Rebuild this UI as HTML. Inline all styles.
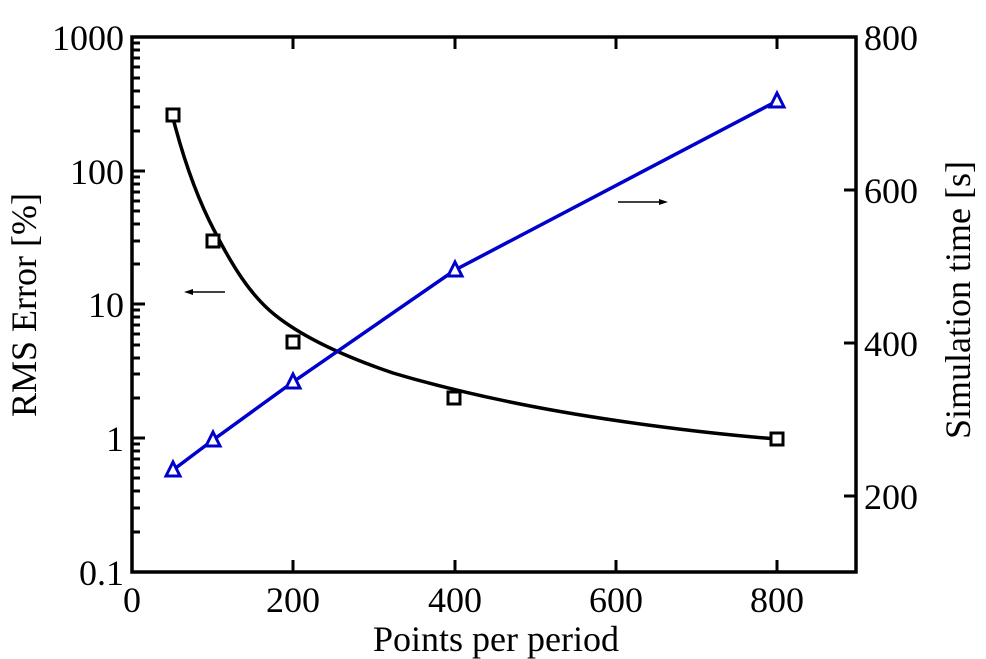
<!DOCTYPE html>
<html><head><style>
html,body{margin:0;padding:0;background:#fff;}
svg{display:block;font-family:"Liberation Serif",serif;}
</style></head><body>
<svg width="986" height="659" viewBox="0 0 986 659" xmlns="http://www.w3.org/2000/svg">
<g stroke="#000" stroke-width="3.5" fill="none">
<rect x="132" y="37" width="724" height="535"/>
</g>
<g stroke="#000" stroke-width="3">
<line x1="293" y1="572" x2="293" y2="560"/><line x1="455" y1="572" x2="455" y2="560"/><line x1="616" y1="572" x2="616" y2="560"/><line x1="777" y1="572" x2="777" y2="560"/>
<line x1="293" y1="37" x2="293" y2="49"/><line x1="455" y1="37" x2="455" y2="49"/><line x1="616" y1="37" x2="616" y2="49"/><line x1="777" y1="37" x2="777" y2="49"/>
<line x1="856" y1="190" x2="844" y2="190"/><line x1="856" y1="343" x2="844" y2="343"/><line x1="856" y1="496" x2="844" y2="496"/>
</g>
<g stroke="#000" stroke-width="3">
<line x1="132" y1="37" x2="145" y2="37"/><line x1="132" y1="171" x2="145" y2="171"/><line x1="132" y1="304" x2="145" y2="304"/><line x1="132" y1="438" x2="145" y2="438"/>
<line x1="132" y1="131" x2="140" y2="131"/><line x1="132" y1="107" x2="140" y2="107"/><line x1="132" y1="91" x2="140" y2="91"/><line x1="132" y1="78" x2="140" y2="78"/><line x1="132" y1="67" x2="140" y2="67"/><line x1="132" y1="58" x2="140" y2="58"/><line x1="132" y1="50" x2="140" y2="50"/><line x1="132" y1="43" x2="140" y2="43"/>
<line x1="132" y1="264" x2="140" y2="264"/><line x1="132" y1="241" x2="140" y2="241"/><line x1="132" y1="224" x2="140" y2="224"/><line x1="132" y1="211" x2="140" y2="211"/><line x1="132" y1="201" x2="140" y2="201"/><line x1="132" y1="192" x2="140" y2="192"/><line x1="132" y1="184" x2="140" y2="184"/><line x1="132" y1="177" x2="140" y2="177"/>
<line x1="132" y1="398" x2="140" y2="398"/><line x1="132" y1="374" x2="140" y2="374"/><line x1="132" y1="358" x2="140" y2="358"/><line x1="132" y1="345" x2="140" y2="345"/><line x1="132" y1="334" x2="140" y2="334"/><line x1="132" y1="325" x2="140" y2="325"/><line x1="132" y1="317" x2="140" y2="317"/><line x1="132" y1="310" x2="140" y2="310"/>
<line x1="132" y1="532" x2="140" y2="532"/><line x1="132" y1="508" x2="140" y2="508"/><line x1="132" y1="491" x2="140" y2="491"/><line x1="132" y1="478" x2="140" y2="478"/><line x1="132" y1="468" x2="140" y2="468"/><line x1="132" y1="459" x2="140" y2="459"/><line x1="132" y1="451" x2="140" y2="451"/><line x1="132" y1="444" x2="140" y2="444"/>
</g>
<path d="M174,122 C184,160 198,200 215,232 C232,265 250,295 275,315 C300,335 340,355 393,373 C430,384 470,394 520,404 C600,420 700,433 777,439" stroke="#000" stroke-width="3.5" fill="none"/>
<g stroke="#000" stroke-width="3" fill="#fff">
<rect x="167" y="109" width="12" height="12"/><rect x="207" y="235" width="12" height="12"/><rect x="287" y="336" width="12" height="12"/><rect x="448" y="392" width="12" height="12"/><rect x="771" y="433" width="12" height="12"/>
</g>
<polyline points="173,470 213,440 293,382 455,270 777,101" stroke="#0000cc" stroke-width="3.5" fill="none"/>
<g stroke="#0000cc" stroke-width="3" fill="#fff">
<polygon points="173,462 180,476 166,476"/><polygon points="213,432 220,446 206,446"/><polygon points="293,374 300,388 286,388"/><polygon points="455,262 462,276 448,276"/><polygon points="777,93 784,107 770,107"/>
</g>
<line x1="225" y1="292" x2="190" y2="292" stroke="#000" stroke-width="1.5"/><polygon points="184,292 193,289 193,295" fill="#000"/>
<line x1="618" y1="202" x2="662" y2="202" stroke="#000" stroke-width="1.5"/><polygon points="668,202 659,199 659,205" fill="#000"/>
<g font-size="36" fill="#000">
<g text-anchor="end">
<text x="124" y="50">1000</text><text x="124" y="184">100</text><text x="124" y="317">10</text><text x="124" y="451">1</text><text x="124" y="585">0.1</text>
</g>
<g text-anchor="middle">
<text x="132" y="612">0</text><text x="293" y="612">200</text><text x="455" y="612">400</text><text x="616" y="612">600</text><text x="777" y="612">800</text>
<text x="496" y="651">Points per period</text>
</g>
<g text-anchor="start">
<text x="864" y="50">800</text><text x="864" y="203">600</text><text x="864" y="356">400</text><text x="864" y="509">200</text>
</g>
<text transform="translate(36,305) rotate(-90)" text-anchor="middle">RMS Error [%]</text>
<text transform="translate(970,300) rotate(-90)" text-anchor="middle">Simulation time [s]</text>
</g>
</svg>
</body></html>
